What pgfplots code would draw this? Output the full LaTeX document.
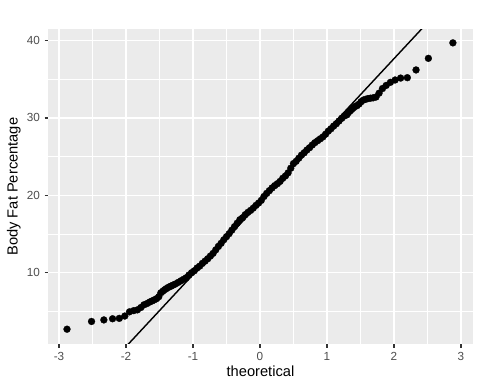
\documentclass[border=0pt]{standalone}
\usepackage{fontspec}
\setmainfont{Liberation Sans}
\usepackage{pgfplots}
\pgfplotsset{compat=1.18}
\definecolor{panelbg}{HTML}{EBEBEB}
\definecolor{gray20}{HTML}{333333}
\definecolor{gray30}{HTML}{4D4D4D}
\begin{document}
\begin{tikzpicture}
\begin{axis}[
  at={(0,0)}, anchor=south west,
  scale only axis, width=318.3pt, height=236pt,
  xmin=-3.16, xmax=3.175, ymin=0.79, ymax=41.45,
  axis background/.style={fill=panelbg},
  axis line style={draw=none},
  xtick={-3,-2,-1,0,1,2,3}, ytick={10,20,30,40},
  minor xtick={-2.5,-1.5,-0.5,0.5,1.5,2.5}, minor ytick={5,15,25,35},
  grid=both,
  major grid style={white, line width=1.07pt},
  minor grid style={white, line width=0.53pt},
  tick align=outside, major tick length=2.75pt, minor tick length=0pt,
  tick pos=left,
  tick style={gray20, line width=1.07pt},
  /pgf/number format/assume math mode=true,
  ticklabel style={font=\fontsize{8.8}{10}\selectfont, text=gray30},
  xlabel={theoretical}, ylabel={Body Fat Percentage},
  every axis x label/.style={at={(axis description cs:0.5,0)}, anchor=base, yshift=-24.5pt, font=\fontsize{11}{13}\selectfont, text=black},
  every axis y label/.style={at={(axis description cs:0,0.5)}, xshift=-22.9pt, rotate=90, anchor=base, font=\fontsize{11}{13}\selectfont, text=black},
  clip=true,
]
\addplot[black, line width=1.07pt] coordinates {(-3.16,-10.34) (3.175,48.58)};
\addplot[only marks, mark=*, mark size=2.6pt, mark options={draw=black, fill=black, line width=0.2pt}] table {
x y
-2.880 2.7
-2.514 3.7
-2.330 3.9
-2.200 4.05
-2.100 4.1
-2.017 4.4
-1.947 4.95
-1.884 5.1
-1.829 5.2
-1.778 5.5
-1.732 5.85
-1.689 6.0
-1.649 6.2
-1.611 6.35
-1.576 6.5
-1.542 6.65
-1.510 6.9
-1.480 7.4
-1.451 7.6
-1.423 7.8
-1.396 7.95
-1.370 8.1
-1.345 8.2
-1.321 8.3
-1.298 8.4
-1.26 8.55
-1.22 8.75
-1.18 8.95
-1.14 9.15
-1.10 9.35
-1.06 9.7
-1.02 10.0
-0.98 10.25
-0.94 10.6
-0.90 10.85
-0.86 11.2
-0.82 11.5
-0.78 11.8
-0.74 12.15
-0.70 12.5
-0.66 12.95
-0.62 13.4
-0.58 13.8
-0.54 14.25
-0.50 14.65
-0.46 15.05
-0.42 15.5
-0.38 15.95
-0.34 16.4
-0.30 16.85
-0.26 17.1
-0.22 17.5
-0.18 17.8
-0.14 18.05
-0.10 18.35
-0.06 18.7
-0.02 19.0
0.02 19.35
0.06 19.85
0.10 20.25
0.14 20.6
0.18 20.95
0.22 21.25
0.26 21.5
0.30 21.8
0.34 22.2
0.38 22.5
0.42 22.9
0.46 23.5
0.50 24.1
0.54 24.4
0.58 24.8
0.62 25.2
0.66 25.5
0.70 25.85
0.74 26.15
0.78 26.5
0.82 26.8
0.86 27.05
0.90 27.3
0.94 27.55
0.98 27.9
1.02 28.3
1.06 28.6
1.10 28.95
1.14 29.25
1.18 29.6
1.22 29.95
1.26 30.25
1.298 30.4
1.321 30.7
1.345 30.9
1.370 31.1
1.396 31.3
1.423 31.5
1.451 31.6
1.480 31.8
1.510 32.1
1.542 32.3
1.576 32.4
1.611 32.5
1.649 32.55
1.689 32.6
1.732 32.7
1.778 33.2
1.829 33.8
1.884 34.2
1.947 34.6
2.017 34.9
2.100 35.15
2.200 35.2
2.330 36.2
2.514 37.7
2.880 39.7
};
\end{axis}
\pgfresetboundingbox
\path[use as bounding box] (-36.2pt,-30pt) rectangle (323.8pt,258pt);
\end{tikzpicture}
\end{document}
